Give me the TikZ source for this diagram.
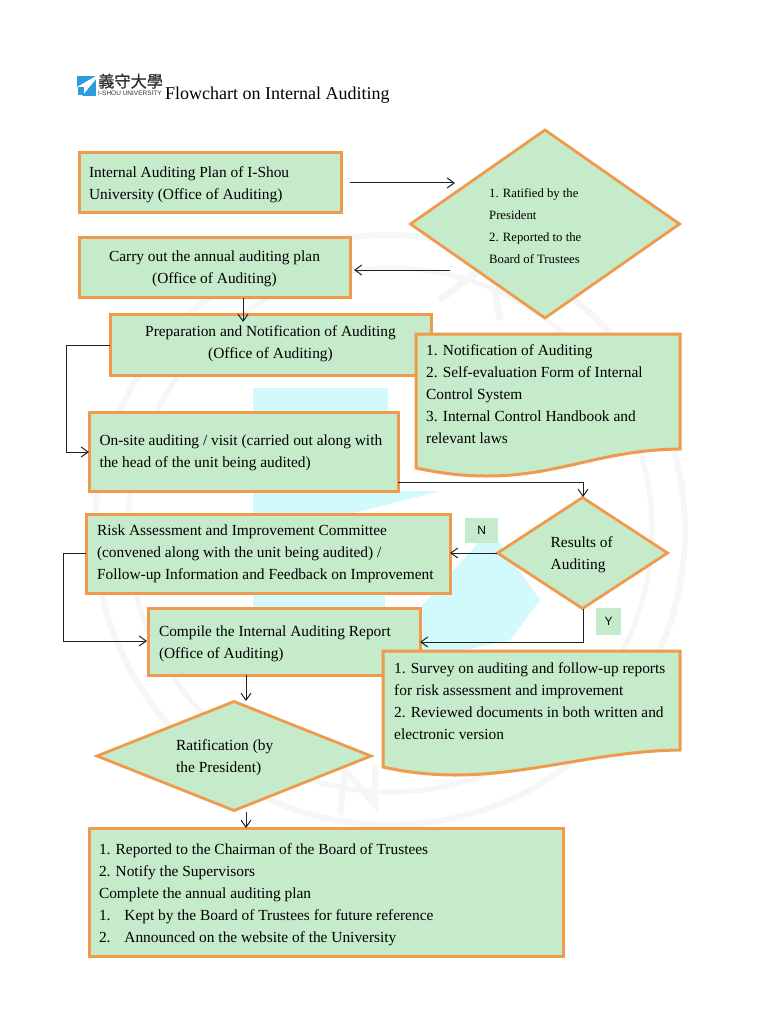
\documentclass[tikz,border=0pt]{standalone}
\usepackage{fontspec}
\setmainfont{Liberation Serif}
\newfontfamily\cjkfont[FakeBold=1]{Noto Sans CJK TC}
\newfontfamily\labelsans{Liberation Sans}
\usetikzlibrary{shapes.geometric,arrows.meta}
\definecolor{boxfill}{HTML}{C6EBCA}
\definecolor{boxedge}{HTML}{EF9A4C}
\definecolor{wmcyan}{HTML}{D2F9FB}
\definecolor{wmgrey}{HTML}{F6F6F6}
\definecolor{logoblue}{HTML}{2F9BDD}
\definecolor{linecol}{HTML}{222222}
\tikzset{
  x=1pt,y=-1pt,
  txt/.style={font=\fontsize{15.4}{22}\selectfont,inner sep=0pt},
  stepbox/.style={draw=boxedge,fill=boxfill,line width=3pt,rectangle,anchor=north west,inner sep=0pt,outer sep=0pt},
  decide/.style={draw=boxedge,fill=boxfill,line width=2.8pt,diamond,inner sep=0pt,outer sep=0pt},
  docshape/.style={draw=boxedge,fill=boxfill,line width=3pt,line join=miter},
  conn/.style={draw=linecol,line width=1pt},
  arr/.style={conn,-{Straight Barb[length=7pt,width=10pt,line width=1pt]}},
  tag/.style={fill=boxfill,inner sep=0pt,font=\labelsans\fontsize{12}{13}\selectfont,anchor=north west},
}
\newcommand{\boxat}[8]{% name,x,y,w,h,align,down-shift of text,text
  \node[stepbox,minimum width=#4pt,minimum height=#5pt] (#1) at (#2,#3) {};
  \node[txt,align=#6,yshift=-#7pt] (#1text) at (#1.center) {#8};}
\begin{document}
\begin{tikzpicture}
\useasboundingbox (0,0) rectangle (768,1024);
\fill[white] (0,0) rectangle (768,1024);
% watermark
\draw[wmgrey,line width=6pt] (390,530) circle (295);
\draw[wmgrey,line width=5pt] (390,530) circle (262);
\draw[wmgrey,line width=7pt] (440,300) -- (490,262) -- (500,320);
\draw[wmgrey,line width=6pt] (340,815) -- (345,770) -- (375,805) -- (375,765);
\fill[wmcyan] (253,388) rectangle (388,412);
\fill[wmcyan] (253,491) -- (253,514) -- (350,514) -- (440,491) -- cycle;
\fill[wmcyan] (420,608) -- (420,660) -- (510,640) -- (540,600) -- (490,530) -- cycle;
\fill[wmcyan] (253,593) rectangle (385,608);
% logo
\fill[logoblue] (77,76) rectangle (96,96);
\fill[white] (77,87) -- (96,76) -- (96,79) -- (82,96) -- (77,96) -- cycle;
\fill[logoblue] (78,87.5) rectangle (84,95);
\node[anchor=north west,inner sep=0pt,text=black!80,font=\cjkfont\fontsize{16.2}{16}\selectfont] (logotext) at (98,73.5) {義守大學};
\node[anchor=north west,inner sep=0pt,text=black!80,font=\labelsans\fontsize{6.5}{7}\selectfont] (logosub) at (98,90.5) {I-SHOU UNIVERSITY};
\node[anchor=base west,inner sep=0pt,font=\fontsize{18}{20}\selectfont] (title) at (165,100) {Flowchart on Internal Auditing};
% boxes
\boxat{plan}{79}{153}{262}{60}{left}{2}{\makebox[242pt][l]{Internal Auditing Plan of I-Shou}\\\makebox[242pt][l]{University (Office of Auditing)}}
\boxat{carry}{79}{237}{271}{60}{center}{2}{Carry out the annual auditing plan\\(Office of Auditing)}
\boxat{prep}{110}{314}{321}{61}{center}{-1}{Preparation and Notification of Auditing\\(Office of Auditing)}
\boxat{onsite}{89}{412}{309}{79}{left}{1}{\makebox[288pt][l]{On-site auditing / visit (carried out along with}\\\makebox[288pt][l]{the head of the unit being audited)}}
\boxat{risk}{86}{514}{364}{79}{left}{0}{\makebox[342pt][l]{Risk Assessment and Improvement Committee}\\\makebox[342pt][l]{(convened along with the unit being audited) /}\\\makebox[342pt][l]{Follow-up Information and Feedback on Improvement}}
\boxat{compile}{148}{608}{272}{67}{left}{2}{\makebox[250pt][l]{Compile the Internal Auditing Report}\\\makebox[250pt][l]{(Office of Auditing)}}
\boxat{final}{89}{828}{474}{128}{left}{3}{\makebox[454pt][l]{1. Reported to the Chairman of the Board of Trustees}\\\makebox[454pt][l]{2. Notify the Supervisors}\\\makebox[454pt][l]{Complete the annual auditing plan}\\\makebox[454pt][l]{1.\hspace{0.9em}Kept by the Board of Trustees for future reference}\\\makebox[454pt][l]{2.\hspace{0.9em}Announced on the website of the University}}
% documents
\path[docshape] (416,334) -- (680,334) -- (680,449) .. controls (600,450) and (560,476) .. (487,476) .. controls (460,476) and (440,473) .. (416,468) -- cycle;
\node[txt,anchor=north west,align=left] (docone) at (426,344.5) {1. Notification of Auditing\\2. Self-evaluation Form of Internal\\Control System\\3. Internal Control Handbook and\\relevant laws};
\path[docshape] (383,651) -- (680,651) -- (680,750) .. controls (600,751) and (530,775) .. (455,775) .. controls (430,775) and (405,772) .. (383,767) -- cycle;
\node[txt,anchor=north west,align=left] (doctwo) at (394,662) {1. Survey on auditing and follow-up reports\\for risk assessment and improvement\\2. Reviewed documents in both written and\\electronic version};
% decisions
\node[decide,minimum width=269pt,minimum height=188pt] (ratify) at (545,224) {};
\node[anchor=north west,inner sep=0pt,align=left,font=\fontsize{12.7}{22}\selectfont] (ratifytext) at (489,188.5) {1. Ratified by the\\President\\2. Reported to the\\Board of Trustees};
\node[decide,minimum width=170pt,minimum height=111pt] (results) at (582.5,553) {};
\node[txt,anchor=north west,align=left] (resultstext) at (550.5,536.5) {Results of\\Auditing};
\node[decide,minimum width=274pt,minimum height=109pt] (ratification) at (234,756) {};
\node[txt,anchor=north west,align=left] (ratificationtext) at (176,739) {Ratification (by\\the President)};
% labels
\node[tag,minimum width=33pt,minimum height=25pt] (nlabel) at (465,518) {N};
\node[tag,minimum width=25pt,minimum height=27pt] (ylabel) at (596,608) {Y};
% free ends
\coordinate (planout) at (350,183);
\coordinate (ratifyin) at (455,183);
\coordinate (ratifyout) at (450,270);
\coordinate (carryin) at (354,270);
\coordinate (carrydown) at (243,298);
\coordinate (prepin) at (243,322);
\coordinate (onsiteout) at (398,482);
\coordinate (riskin) at (450,553);
\coordinate (compilein) at (147,641);
\coordinate (riskout) at (86,553);
\coordinate (compileup) at (246,675);
\coordinate (ratificationin) at (246,701);
\coordinate (ratificationdown) at (246,812);
\coordinate (finalin) at (246,828);
% connectors
\draw[arr] (planout) -- (ratifyin);
\draw[arr] (ratifyout) -- (carryin);
\draw[arr] (carrydown) -- (prepin);
\draw[arr] (110,345) -- (66,345) -- (66,452) -- (onsite.west |- 0,452);
\draw[arr] (onsiteout) -- (583,482) -- (583,497);
\draw[arr] (497,553) -- (riskin);
\draw[arr] (583,609) -- (583,642) -- (compile.east |- 0,642);
\draw[arr] (riskout) -- (63,553) -- (63,641) -- (compilein);
\draw[arr] (compileup) -- (ratificationin);
\draw[arr] (ratificationdown) -- (finalin);
\end{tikzpicture}
\end{document}
